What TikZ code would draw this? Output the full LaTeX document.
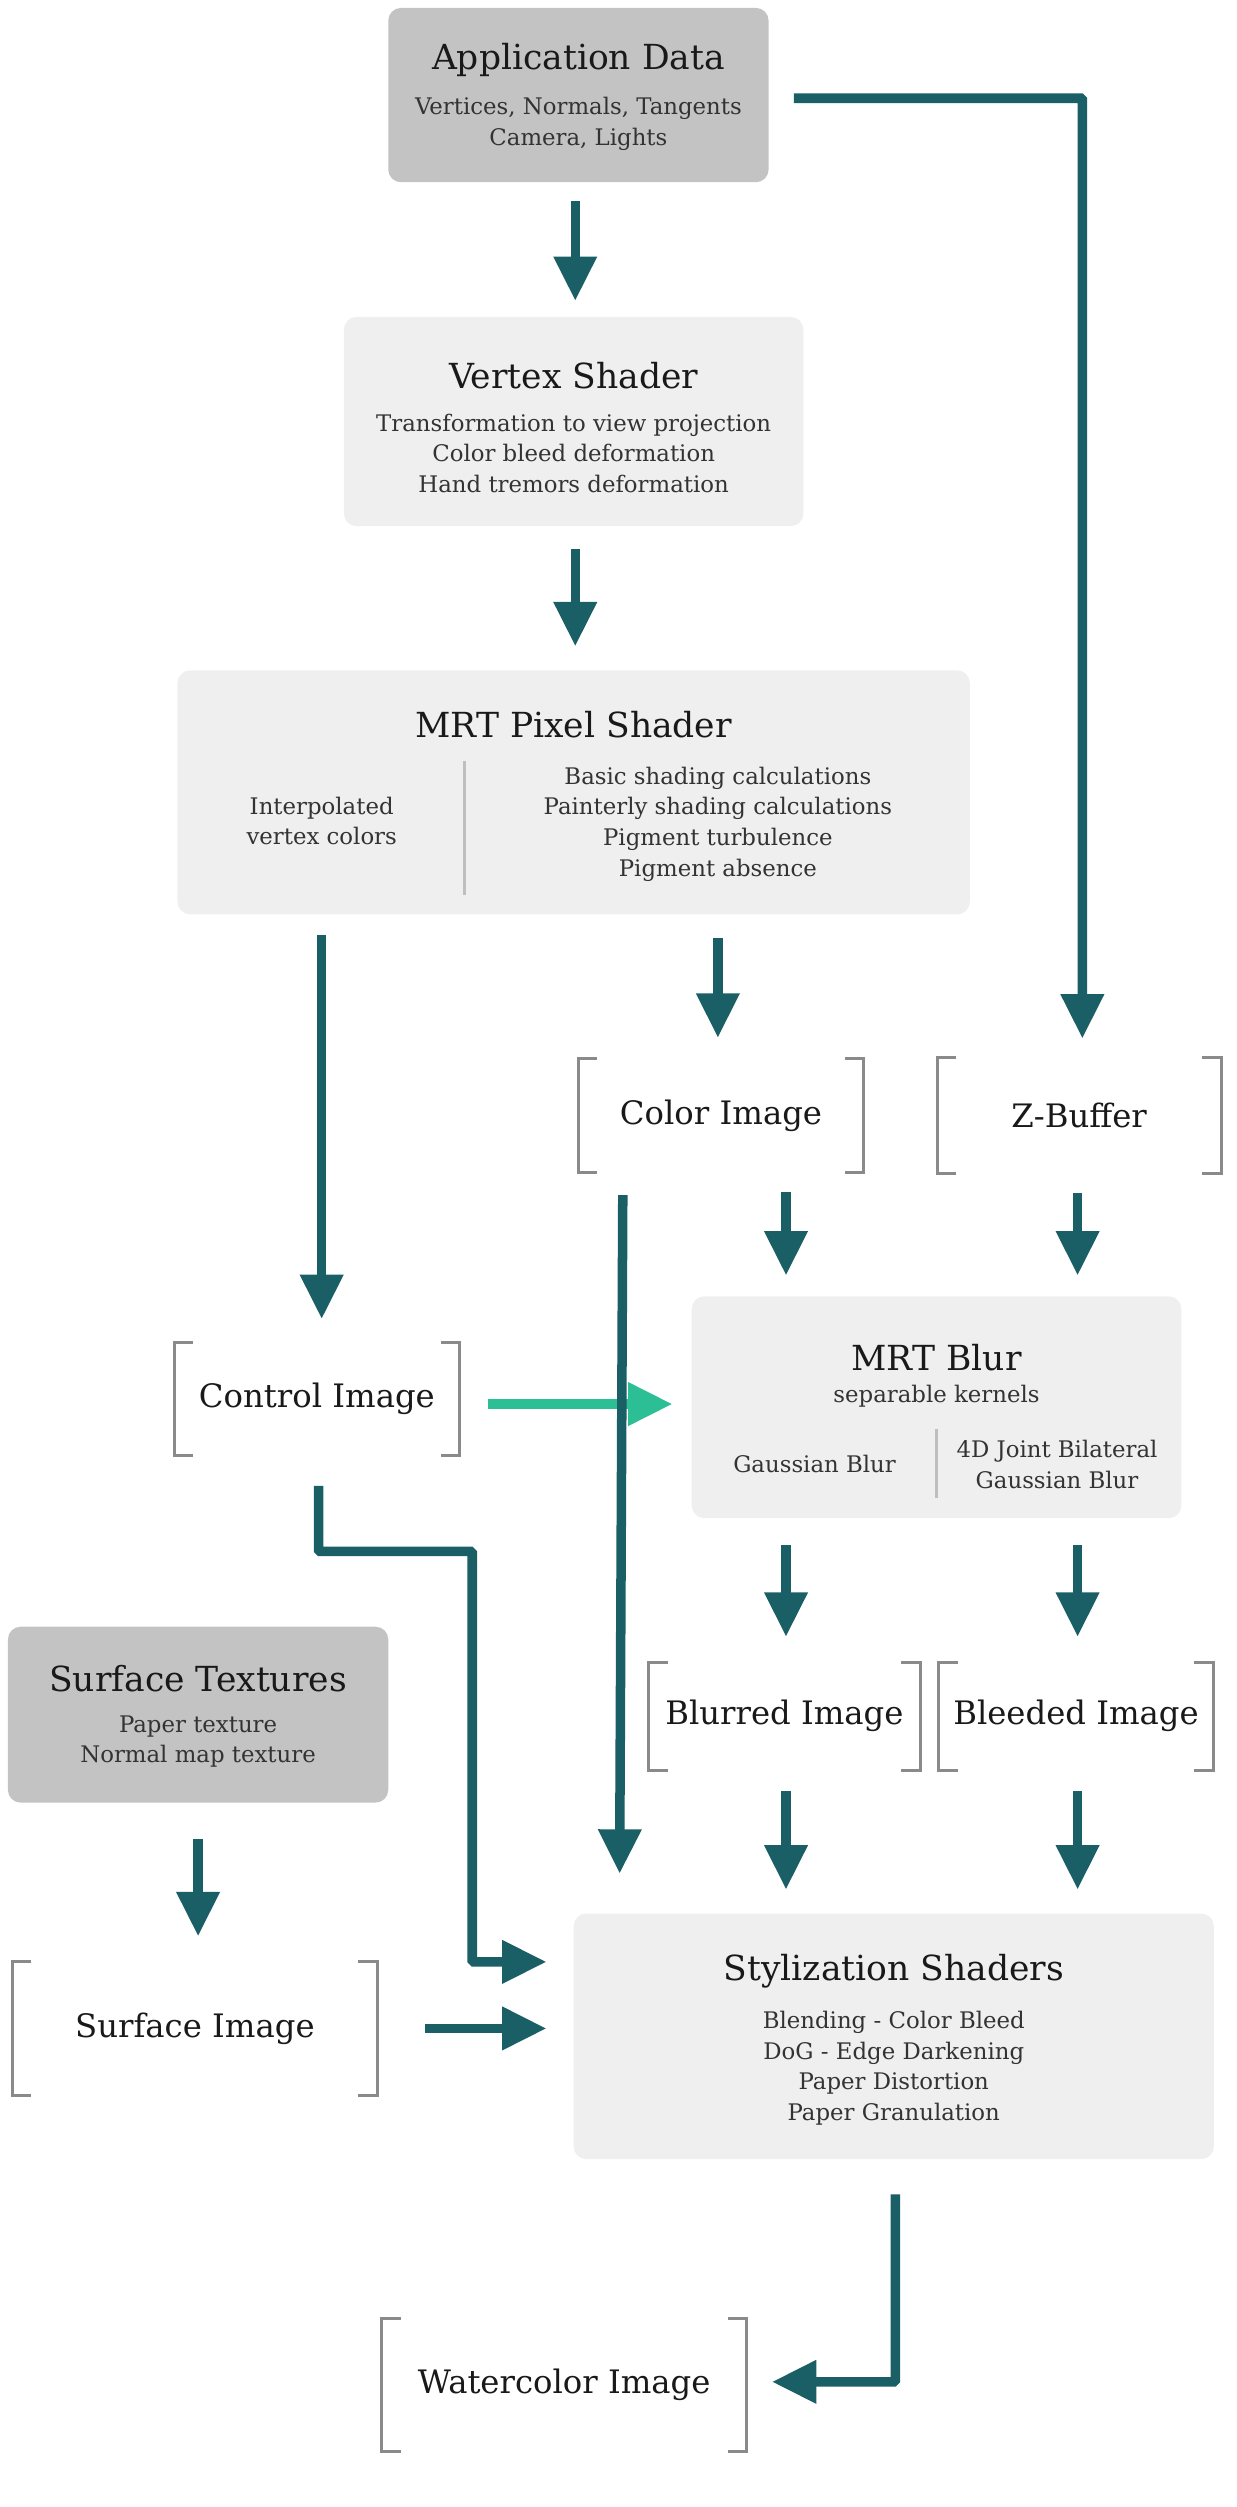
\documentclass[tikz,border=0pt]{standalone}
\usepackage{fontspec}
\setmainfont{DejaVu Serif}
\usetikzlibrary{arrows.meta,calc}
\definecolor{teal}{HTML}{1A5F66}
\definecolor{grn}{HTML}{2CBF95}
\definecolor{dgray}{HTML}{C4C3C4}
\definecolor{lgray}{HTML}{EFEFEF}
\definecolor{brk}{HTML}{8A8A8A}
\begin{document}
\begin{tikzpicture}[x=0.5mm,y=-0.5mm,
  box/.style n args={3}{draw=none,fill=#3,rounded corners=4mm,minimum width=#1*0.5mm,minimum height=#2*0.5mm,inner sep=0pt},
  ttl/.style={font=\fontsize{31}{36}\selectfont,text=black!90,inner sep=0pt},
  sub/.style={font=\fontsize{20.5}{27.5}\selectfont,text=black!80,align=center,inner sep=0pt},
  lbl/.style={font=\fontsize{29}{34}\selectfont,text=black!90,inner sep=0pt},
  bnode/.style n args={2}{minimum width=#1*0.5mm,minimum height=#2*0.5mm,inner sep=0pt},
  brk/.style={draw=brk,line width=0.9mm},
  arr/.style={draw=teal,line width=3mm,-{Triangle[length=14mm,width=13mm]}},
  garr/.style={draw=grn,line width=3mm,-{Triangle[length=14mm,width=13mm]}},
  div/.style={draw=black!25,line width=0.8mm}]
\useasboundingbox (0,0) rectangle (780,1582);
% boxes
\node[box={240}{110}{dgray}] (app) at (365,60) {};
\node[ttl] at (365,38) {Application Data};
\node[sub] at (365,78) {Vertices, Normals, Tangents\\Camera, Lights};
\node[box={290}{132}{lgray}] (vs) at (362,266) {};
\node[ttl] at (362,237) {Vertex Shader};
\node[sub] at (362,286) {Transformation to view projection\\Color bleed deformation\\Hand tremors deformation};
\node[box={500}{154}{lgray}] (ps) at (362,500) {};
\node[ttl] at (362,457) {MRT Pixel Shader};
\node[sub] at (203,518) {Interpolated\\vertex colors};
\draw[div] (293,480) -- (293,565);
\node[sub] at (453,520) {Basic shading calculations\\Painterly shading calculations\\Pigment turbulence\\Pigment absence};
\node[box={309}{140}{lgray}] (mb) at (591,888) {};
\node[ttl] at (591,857) {MRT Blur};
\node[sub] at (591,881) {separable kernels};
\node[sub] at (514,924) {Gaussian Blur};
\draw[div] (591,902) -- (591,945);
\node[sub] at (667,924) {4D Joint Bilateral\\Gaussian Blur};
\node[box={240}{111}{dgray}] (st) at (125,1082) {};
\node[ttl] at (125,1059) {Surface Textures};
\node[sub] at (125,1099) {Paper texture\\Normal map texture};
\node[box={404}{155}{lgray}] (sy) at (564,1285) {};
\node[ttl] at (564,1244) {Stylization Shaders};
\node[sub] at (564,1305) {Blending - Color Bleed\\DoG - Edge Darkening\\Paper Distortion\\Paper Granulation};
% bracket nodes
\newcommand\bracketbox[5]{% name, cx, cy, w, h
  \node[bnode={#4}{#5}] (#1) at (#2,#3) {};
  \draw[brk] ($(#1.north west)+(12,0)$) -- (#1.north west) -- (#1.south west) -- ++(12,0);
  \draw[brk] ($(#1.north east)+(-12,0)$) -- (#1.north east) -- (#1.south east) -- ++(-12,0);}
\bracketbox{ci}{455}{704}{180}{72}\node[lbl] at (ci) {Color Image};
\bracketbox{zb}{681}{704}{179}{73}\node[lbl] at (zb) {Z-Buffer};
\bracketbox{co}{200}{883}{180}{71}\node[lbl] at (co) {Control Image};
\bracketbox{bl}{495}{1083}{171}{68}\node[lbl] at (bl) {Blurred Image};
\bracketbox{bd}{679}{1083}{173}{68}\node[lbl] at (bd) {Bleeded Image};
\bracketbox{si}{123}{1280}{230}{84}\node[lbl] at (si) {Surface Image};
\bracketbox{wi}{356}{1505}{230}{84}\node[lbl] at (wi) {Watercolor Image};
% arrows
\coordinate (appR) at (501,62);
\draw[arr] ($(app.south)+(-2,12)$) -- ($(vs.north)+(1,-10)$);
\draw[arr] ($(vs.south)+(1,14)$) -- ($(ps.north)+(1,-15)$);
\draw[arr] ($(ps.south)+(91,15)$) -- ($(ci.north)+(-2,-13)$);
\draw[arr] ($(ps.south)+(-159,13)$) -- ($(co.north)+(3,-15)$);
\draw[arr,rounded corners=0.5mm] (appR) -- (683,62) -- ($(zb.north)+(2,-12)$);
\draw[arr] ($(ci.south)+(41,12)$) -- ($(mb.north)+(-95,-13)$);
\draw[arr] ($(zb.south)+(-1,12)$) -- ($(mb.north)+(89,-13)$);
\draw[garr] ($(co.east)+(18,3)$) -- ($(mb.west)+(-12,-2)$);
\draw[arr] ($(mb.south)+(-95,17)$) -- ($(bl.north)+(1,-16)$);
\draw[arr] ($(mb.south)+(89,17)$) -- ($(bd.north)+(1,-16)$);
\draw[arr] ($(bl.south)+(1,13)$) -- ($(sy.north)+(-68,-15)$);
\draw[arr] ($(bd.south)+(1,13)$) -- ($(sy.north)+(116,-15)$);
\draw[arr] ($(ci.south)+(-62,14)$) -- ($(sy.north)+(-173,-25)$);
\draw[arr,rounded corners=0.5mm] ($(co.south)+(1,19)$) -- (201,979) -- (298,979) -- (298,1238) -- ($(sy.west)+(-17,-47)$);
\draw[arr] ($(st.south)+(0,23)$) -- ($(si.north)+(2,-16)$);
\draw[arr] ($(si.east)+(30,0)$) -- ($(sy.west)+(-17,-5)$);
\draw[arr,rounded corners=0.5mm] ($(sy.south)+(1,22)$) -- (565,1503) -- ($(wi.east)+(16,-2)$);
\end{tikzpicture}
\end{document}
